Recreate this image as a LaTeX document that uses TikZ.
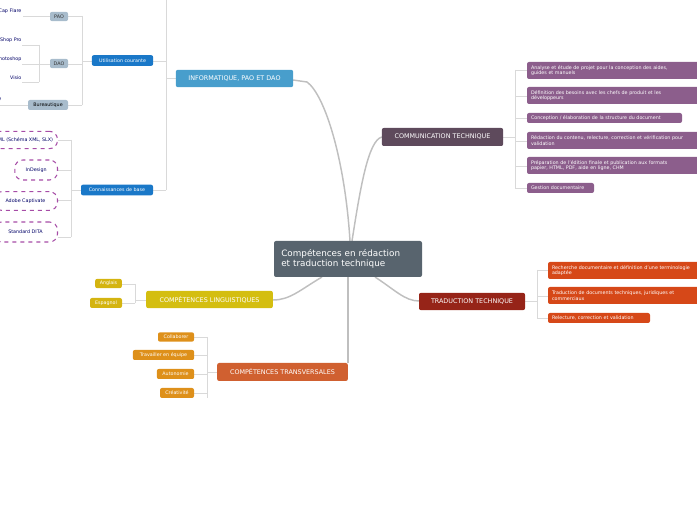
\documentclass[tikz,border=0pt]{standalone}
\usepackage{fontspec}
\setmainfont{DejaVu Sans}
\begin{document}
\begin{tikzpicture}[x=0.75pt,y=-0.75pt,
  bx/.style={rounded corners=1.5pt,text=white,inner sep=0pt,align=left,font=\fontsize{3.6pt}{4.2pt}\selectfont},
  lf/.style={text=black!60!blue,font=\fontsize{3.6pt}{4.2pt}\selectfont,inner sep=1pt},
  dsh/.style={draw=violet!70,dashed,rounded corners=6pt,thick,text=blue!40!black,font=\fontsize{3.6pt}{4.2pt}\selectfont},
  ln/.style={draw=black!15,line width=0.5pt},
  cn/.style={draw=black!25,line width=1.1pt}]
\useasboundingbox (0,0) rectangle (697,520);
\clip (0,0) rectangle (697,520);
\def\bxx#1#2#3#4#5#6#7{\node[bx,fill=#6,minimum width=(#3-#1)*0.75pt,minimum height=(#4-#2)*0.75pt,text width=(#3-#1)*0.75pt-6pt,inner xsep=3pt] (#7) at ({(#1+#3)/2},{(#2+#4)/2}) {#5};}
% brackets
\draw[ln] (176,78)--(166,78) (166,0)--(166,190) (166,61)--(153,61) (166,190)--(153,190);
\draw[ln] (92,61)--(82,61) (82,16)--(82,105) (82,16)--(68,16) (82,64)--(68,64) (82,105)--(68,105);
\draw[ln] (50,16)--(23,16) (50,64)--(39,64) (39,45)--(39,82) (39,45)--(22,45) (39,64)--(22,64) (39,82)--(22,82);
\draw[ln] (28,105)--(0,105);
\draw[ln] (81,190)--(71,190) (71,140)--(71,237) (71,140)--(58,140) (71,170)--(58,170) (71,200)--(58,200) (71,237)--(58,237);
\draw[ln] (503,137)--(515,137) (515,70)--(515,188);
\foreach \y in {70,96,118,141,166,188} \draw[ln] (515,\y)--(527,\y);
\draw[ln] (525,301)--(537,301) (537,270)--(537,318);
\foreach \y in {270,296,318} \draw[ln] (537,\y)--(548,\y);
\draw[ln] (146,300)--(135,300) (135,284)--(135,303) (135,284)--(122,284) (135,303)--(122,303);
\draw[ln] (217,372)--(207,372) (207,337)--(207,398);
\foreach \y in {337,355,374,393} \draw[ln] (207,\y)--(194,\y);
% center connectors
\draw[cn] (350,241) .. controls (345,160) and (325,95) .. (307,82) -- (293,80);
\draw[cn] (352,241) .. controls (360,190) and (368,140) .. (382,137);
\draw[cn] (375,277) .. controls (395,290) and (405,301) .. (419,301);
\draw[cn] (322,277) .. controls (300,290) and (290,300) .. (273,300);
\draw[cn] (348,277) -- (348,363);
% nodes
\node[bx,fill=black!55!cyan!30!gray,minimum width=111pt,minimum height=27pt,text width=100pt,font=\fontsize{6.6pt}{7.6pt}\selectfont,fill={rgb,255:red,88;green,100;blue,110}] (c) at (348,259) {Compétences en rédaction\\et traduction technique};
\node[bx,fill={rgb,255:red,72;green,158;blue,204},minimum width=88pt,minimum height=13pt,align=center,text width=85pt,font=\fontsize{4.8pt}{5pt}\selectfont] (info) at (234.5,78.5) {INFORMATIQUE, PAO ET DAO};
\node[bx,fill={rgb,255:red,26;green,120;blue,200},minimum width=46pt,minimum height=8pt,align=center] (util) at (122.5,60.5) {Utilisation courante};
\node[bx,fill={rgb,255:red,26;green,120;blue,200},minimum width=54pt,minimum height=8pt,align=center] (conn) at (117,190) {Connaissances de base};
\node[bx,fill={rgb,255:red,168;green,188;blue,204},text=black!80,minimum width=13.5pt,minimum height=7pt,align=center] (pao) at (59,16.5) {PAO};
\node[bx,fill={rgb,255:red,168;green,188;blue,204},text=black!80,minimum width=13.5pt,minimum height=7pt,align=center] (dao) at (59,63.5) {DAO};
\node[bx,fill={rgb,255:red,168;green,188;blue,204},text=black,minimum width=30pt,minimum height=7.5pt,align=center] (bur) at (48,105) {Bureautique};
\node[lf,anchor=east] (l1) at (23,11) {RoboHelp, MadCap Flare};
\node[lf,anchor=east] (l2) at (23,40) {Paint Shop Pro};
\node[lf,anchor=east] (l3) at (23,59) {Photoshop};
\node[lf,anchor=east] (l4) at (23,78) {Visio};
\node[lf,anchor=east] (l5) at (3,99) {Office};
\node[dsh,anchor=east,minimum height=13pt] (d1) at (58,140) {XML (Schéma XML, SLX)};
\node[dsh,anchor=east,minimum height=15pt,minimum width=32pt] (d2) at (58,170) {InDesign};
\node[dsh,anchor=east,minimum height=14pt,minimum width=48pt] (d3) at (58,201) {Adobe Captivate};
\node[dsh,anchor=east,minimum height=15pt,minimum width=48pt] (d4) at (58,232) {Standard DITA};
\node[bx,fill={rgb,255:red,94;green,74;blue,92},minimum width=91pt,minimum height=13.5pt,align=center,text width=88pt,font=\fontsize{4.8pt}{5pt}\selectfont] (comm) at (442.5,137) {COMMUNICATION TECHNIQUE};
\bxx{527}{62}{710}{79}{Analyse et étude de projet pour la conception des aides,\\guides et manuels}{violet!40!gray!90}{c1}
\bxx{527}{87}{710}{104}{Définition des besoins avec les chefs de produit et les\\développeurs}{violet!40!gray!90}{c2}
\bxx{527}{113}{682}{123}{Conception / élaboration de la structure du document}{violet!40!gray!90}{c3}
\bxx{527}{132}{710}{149}{Rédaction du contenu, relecture, correction et vérification pour\\validation}{violet!40!gray!90}{c4}
\bxx{527}{157}{710}{174}{Préparation de l'édition finale et publication aux formats\\papier, HTML, PDF, aide en ligne, CHM}{violet!40!gray!90}{c5}
\bxx{527}{183}{594}{193}{Gestion documentaire}{violet!40!gray!90}{c6}
\node[bx,fill={rgb,255:red,150;green,36;blue,24},minimum width=79.5pt,minimum height=13pt,align=center,text width=78pt,font=\fontsize{4.8pt}{5pt}\selectfont] (trad) at (472,301.5) {TRADUCTION TECHNIQUE};
\bxx{548}{262}{710}{279}{Recherche documentaire et définition d'une terminologie\\adaptée}{{rgb,255:red,214;green,72;blue,24}}{t1}
\bxx{548}{287}{710}{304}{Traduction de documents techniques, juridiques et\\commerciaux}{{rgb,255:red,214;green,72;blue,24}}{t2}
\bxx{548}{313}{650}{323}{Relecture, correction et validation}{{rgb,255:red,214;green,72;blue,24}}{t3}
\node[bx,fill={rgb,255:red,212;green,190;blue,16},minimum width=95pt,minimum height=13pt,align=center,text width=93pt,font=\fontsize{4.8pt}{5pt}\selectfont] (ling) at (209.5,299.5) {COMPÉTENCES LINGUISTIQUES};
\node[bx,fill={rgb,255:red,212;green,180;blue,16},minimum width=20pt,minimum height=7pt,align=center] (ang) at (108.5,283.5) {Anglais};
\node[bx,fill={rgb,255:red,212;green,180;blue,16},minimum width=24pt,minimum height=7.5pt,align=center] (esp) at (106,303) {Espagnol};
\node[bx,fill={rgb,255:red,208;green,96;blue,48},minimum width=98pt,minimum height=13.5pt,align=center,text width=96pt,font=\fontsize{4.8pt}{5pt}\selectfont] (trans) at (282.5,372) {COMPÉTENCES TRANSVERSALES};
\node[bx,fill={rgb,255:red,222;green,144;blue,26},minimum width=27pt,minimum height=7pt,align=center] (o1) at (176,337) {Collaborer};
\node[bx,fill={rgb,255:red,222;green,144;blue,26},minimum width=46pt,minimum height=7.5pt,align=center] (o2) at (163.5,355) {Travailler en équipe};
\node[bx,fill={rgb,255:red,222;green,144;blue,26},minimum width=28pt,minimum height=7.5pt,align=center] (o3) at (175.5,374) {Autonomie};
\node[bx,fill={rgb,255:red,222;green,144;blue,26},minimum width=25.5pt,minimum height=7.5pt,align=center] (o4) at (177,393) {Créativité};
\end{tikzpicture}
\end{document}
